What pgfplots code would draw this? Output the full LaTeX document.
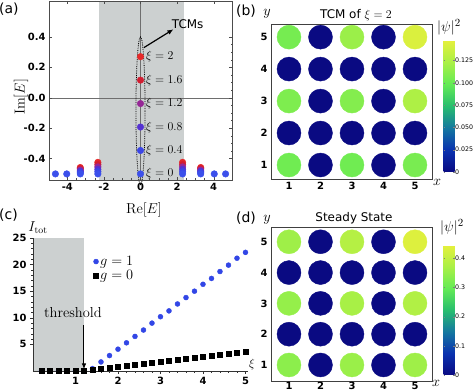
\documentclass[border=0pt]{standalone}
\usepackage{fontspec}
\usepackage{pgfplots}
\pgfplotsset{compat=1.18}
\usetikzlibrary{arrows.meta}
\newfontfamily\dv{DejaVu Sans}
\definecolor{bgray}{RGB}{204,208,208}
\definecolor{axgray}{RGB}{110,110,110}
\definecolor{cA}{RGB}{60,80,235}
\definecolor{cB}{RGB}{60,70,230}
\definecolor{cC}{RGB}{85,50,210}
\definecolor{cD}{RGB}{150,40,150}
\definecolor{cE}{RGB}{210,30,50}
\definecolor{cF}{RGB}{230,40,40}
\definecolor{pblue}{RGB}{50,70,230}
\pgfplotsset{
  colormap={psi}{rgb255=(10,10,130) rgb255=(10,50,175) rgb255=(20,120,160) rgb255=(40,190,110) rgb255=(100,235,85) rgb255=(170,240,70) rgb255=(230,240,60)},
  tickb/.style={ticklabel style={font=\dv\bfseries\fontsize{10}{11}\selectfont}},
}
\begin{document}
\begin{tikzpicture}
\path[use as bounding box] (0bp,0bp) rectangle (474bp,391bp);

% ---------------- (a)
\begin{axis}[
  at={(49bp,211bp)}, anchor=south west, scale only axis, width=183bp, height=179bp,
  xmin=-5, xmax=5, ymin=-0.54, ymax=0.636,
  xtick={-4,-2,0,2,4}, xticklabels={-4,-2,0,2,4},
  ytick={-0.4,-0.2,0,0.2,0.4}, yticklabels={-0.4,-0.2,0.0,0.2,0.4},
  minor x tick num=3, minor y tick num=3,
  tick align=inside, major tick length=3bp, minor tick length=1.5bp,
  tickb, axis line style={draw=black!70}, every tick/.style={black!70},
  clip=false, axis on top,
]
\fill[bgray] (axis cs:-2.28,-0.54) rectangle (axis cs:2.35,0.636);
\draw[axgray] (axis cs:0,-0.54) -- (axis cs:0,0.636);
\draw[axgray] (axis cs:-5,0) -- (axis cs:5,0);
\addplot[only marks, mark=*, mark size=3.3bp, color=cF] coordinates {(0,0.27) (-2.33,-0.424) (2.3,-0.424) (-3.29,-0.458) (3.29,-0.458)};
\addplot[only marks, mark=*, mark size=3.3bp, color=cE] coordinates {(0,0.116) (-2.33,-0.439) (2.3,-0.439) (-3.29,-0.466) (3.29,-0.466)};
\addplot[only marks, mark=*, mark size=3.3bp, color=cD] coordinates {(0,-0.038) (-2.33,-0.454) (2.3,-0.454) (-3.29,-0.475) (3.29,-0.475)};
\addplot[only marks, mark=*, mark size=3.3bp, color=cC] coordinates {(0,-0.192) (-2.33,-0.47) (2.3,-0.47) (-3.29,-0.483) (3.29,-0.483)};
\addplot[only marks, mark=*, mark size=3.3bp, color=cB] coordinates {(0,-0.346) (-2.33,-0.485) (2.3,-0.485) (-3.29,-0.491) (3.29,-0.491)};
\addplot[only marks, mark=*, mark size=3.3bp, color=cA] coordinates {(0,-0.5) (-2.33,-0.5) (2.3,-0.5) (-3.29,-0.5) (3.29,-0.5) (-4.03,-0.5) (4.03,-0.5) (-4.65,-0.5) (4.65,-0.5)};
\draw[densely dotted, thick] (axis cs:0,-0.085) ellipse [x radius=0.25, y radius=0.485];
\draw[-{Latex[length=6bp,width=5bp]}, line width=1.2bp] (axis cs:0.19,0.33) -- (axis cs:1.8,0.45);
\node[font=\dv\fontsize{12}{13}\selectfont] at (axis cs:2.58,0.485) {TCMs};
\node[anchor=west, inner sep=0pt, font=\fontsize{12}{13}\selectfont] at (axis cs:0.3,0.27) {$\xi=2$};
\node[anchor=west, inner sep=0pt, font=\fontsize{12}{13}\selectfont] at (axis cs:0.3,0.116) {$\xi=1.6$};
\node[anchor=west, inner sep=0pt, font=\fontsize{12}{13}\selectfont] at (axis cs:0.3,-0.038) {$\xi=1.2$};
\node[anchor=west, inner sep=0pt, font=\fontsize{12}{13}\selectfont] at (axis cs:0.3,-0.192) {$\xi=0.8$};
\node[anchor=west, inner sep=0pt, font=\fontsize{12}{13}\selectfont] at (axis cs:0.3,-0.346) {$\xi=0.4$};
\node[anchor=west, inner sep=0pt, font=\fontsize{12}{13}\selectfont] at (axis cs:0.3,-0.5) {$\xi=0$};
\end{axis}
\node[font=\fontsize{14.5}{16}\selectfont] at (144bp,181bp) {$\mathrm{Re}[E]$};
\node[font=\fontsize{14.5}{16}\selectfont, rotate=90] at (21bp,294bp) {$\mathrm{Im}[E]$};
\node[anchor=west, inner sep=0pt, font=\dv\fontsize{14}{15}\selectfont] at (-1bp,382bp) {(a)};

% ---------------- (b)
\begin{axis}[
  at={(271bp,212bp)}, anchor=south west, scale only axis, width=161bp, height=155bp,
  xmin=0.429, xmax=5.54, ymin=0.5625, ymax=5.41,
  xtick={1,...,5}, ytick={1,...,5}, xticklabels={1,2,3,4,5}, yticklabels={1,2,3,4,5},
  major tick length=0pt, tickb, axis line style={draw=black!75},
  colormap name=psi, point meta min=0, point meta max=0.148,
  colorbar,
  colorbar style={
    at={(parent axis.south east)}, anchor=south west, xshift=3bp, yshift=7bp,
    scale only axis, width=11bp, height=132bp,
    ytick={0,0.025,0.05,0.075,0.1,0.125},
    yticklabels={0,0.025,0.050,0.075,0.100,0.125},
    yticklabel style={font=\dv\fontsize{6.3}{7}\selectfont, inner sep=0.5bp},
    major tick length=1.5bp, axis line style={draw=none},
  },
]
\addplot[scatter, only marks, mark=*, mark size=12bp, scatter src=explicit,
  scatter/use mapped color={draw=mapped color, fill=mapped color}] table[x=x,y=y,meta=c] {
x y c
1 5 0.105
2 5 0
3 5 0.118
4 5 0
5 5 0.143
1 4 0
2 4 0
3 4 0
4 4 0
5 4 0
1 3 0.108
2 3 0
3 3 0.110
4 3 0
5 3 0.125
1 2 0
2 2 0
3 2 0
4 2 0
5 2 0
1 1 0.103
2 1 0
3 1 0.103
4 1 0
5 1 0.106
};
\end{axis}
\node[font=\dv\fontsize{12}{13}\selectfont] at (356bp,376bp) {TCM of $\xi=2$};
\node[anchor=west, inner sep=0pt, font=\dv\fontsize{14}{15}\selectfont] at (236bp,380bp) {(b)};
\node[font=\fontsize{14}{15}\selectfont] at (267bp,377bp) {$y$};
\node[font=\fontsize{14}{15}\selectfont] at (437bp,209bp) {$x$};
\node[font=\fontsize{15}{16}\selectfont] at (449bp,364bp) {$|\psi|^2$};

% ---------------- (c)
\begin{axis}[
  at={(33bp,20bp)}, anchor=south west, scale only axis, width=214.6bp, height=133bp,
  xmin=0, xmax=5.05, ymin=0, ymax=25,
  axis lines=left, axis line style={-, black!80},
  xtick={1,...,5}, xticklabels={1,2,3,4,5},
  ytick={5,10,15,20,25}, yticklabels={5,10,15,20,25},
  minor x tick num=4, minor y tick num=4,
  tick align=outside, major tick length=3bp, minor tick length=1.5bp,
  every tick/.style={black!80},
  tickb, clip=false, axis on top,
  legend style={at={(axis cs:1.42,21.9)}, anchor=north west, draw=none, fill=none,
    font=\fontsize{14}{15}\selectfont, row sep=0bp, inner sep=0pt,
    nodes={inner sep=1.5bp}},
  legend cell align=left,
]
\fill[bgray] (axis cs:0,0) rectangle (axis cs:1.2,25);
\addplot[only marks, mark=*, mark size=2.5bp, color=pblue] table {
x y
0.2 0
0.4 0
0.6 0
0.8 0
1.0 0
1.2 0
1.4 0.45
1.6 1.7
1.8 2.9
2.0 4.1
2.2 5.3
2.4 6.5
2.6 7.7
2.8 9.0
3.0 10.2
3.2 11.3
3.4 12.6
3.6 13.8
3.8 15.0
4.0 16.3
4.2 17.4
4.4 18.7
4.6 19.9
4.8 21.2
5.0 22.3
};
\addlegendentry{$g=1$}
\addplot[only marks, mark=square*, mark size=2.4bp, color=black] table {
x y
0.2 0
0.4 0
0.6 0
0.8 0
1.0 0
1.2 0
1.4 0.17
1.6 0.36
1.8 0.56
2.0 0.75
2.2 0.95
2.4 1.15
2.6 1.34
2.8 1.54
3.0 1.73
3.2 1.93
3.4 2.13
3.6 2.32
3.8 2.52
4.0 2.71
4.2 2.91
4.4 3.11
4.6 3.30
4.8 3.50
5.0 3.70
};
\addlegendentry{$g=0$}
\node[font=\fontsize{14.5}{16}\selectfont] at (axis cs:0.94,10.9) {threshold};
\draw[-{Latex[length=6bp,width=4.5bp]}, line width=1bp] (axis cs:1.2,8.6) -- (axis cs:1.2,0.3);
\end{axis}
\node[font=\fontsize{14}{15}\selectfont] at (38bp,163bp) {$I_{\mathrm{tot}}$};
\node[anchor=west, inner sep=0pt, font=\dv\fontsize{14}{15}\selectfont] at (-1bp,176bp) {(c)};
\node[font=\fontsize{13}{14}\selectfont] at (252bp,26bp) {$\xi$};

% ---------------- (d)
\begin{axis}[
  at={(271bp,10bp)}, anchor=south west, scale only axis, width=161bp, height=154bp,
  xmin=0.429, xmax=5.54, ymin=0.48, ymax=5.48,
  xtick={1,...,5}, ytick={1,...,5}, xticklabels={1,2,3,4,5}, yticklabels={1,2,3,4,5},
  major tick length=0pt, tickb, axis line style={draw=black!75},
  xticklabel style={inner sep=0.8bp},
  colormap name=psi, point meta min=0, point meta max=0.446,
  colorbar,
  colorbar style={
    at={(parent axis.south east)}, anchor=south west, xshift=3bp, yshift=6bp,
    scale only axis, width=11bp, height=130bp,
    ytick={0,0.1,0.2,0.3,0.4},
    yticklabels={0,0.1,0.2,0.3,0.4},
    yticklabel style={font=\dv\fontsize{6.3}{7}\selectfont, inner sep=0.5bp},
    major tick length=1.5bp, axis line style={draw=none},
  },
]
\addplot[scatter, only marks, mark=*, mark size=12bp, scatter src=explicit,
  scatter/use mapped color={draw=mapped color, fill=mapped color}] table[x=x,y=y,meta=c] {
x y c
1 5 0.36
2 5 0
3 5 0.385
4 5 0
5 5 0.435
1 4 0
2 4 0
3 4 0
4 4 0
5 4 0
1 3 0.35
2 3 0
3 3 0.37
4 3 0
5 3 0.38
1 2 0
2 2 0
3 2 0
4 2 0
5 2 0
1 1 0.34
2 1 0
3 1 0.355
4 1 0
5 1 0.36
};
\end{axis}
\node[font=\dv\fontsize{12}{13}\selectfont] at (354bp,173bp) {Steady State};
\node[anchor=west, inner sep=0pt, font=\dv\fontsize{14}{15}\selectfont] at (236bp,173bp) {(d)};
\node[font=\fontsize{14}{15}\selectfont] at (267bp,171bp) {$y$};
\node[font=\fontsize{14}{15}\selectfont] at (436bp,8bp) {$x$};
\node[font=\fontsize{15}{16}\selectfont] at (452bp,164bp) {$|\psi|^2$};
\end{tikzpicture}
\end{document}
